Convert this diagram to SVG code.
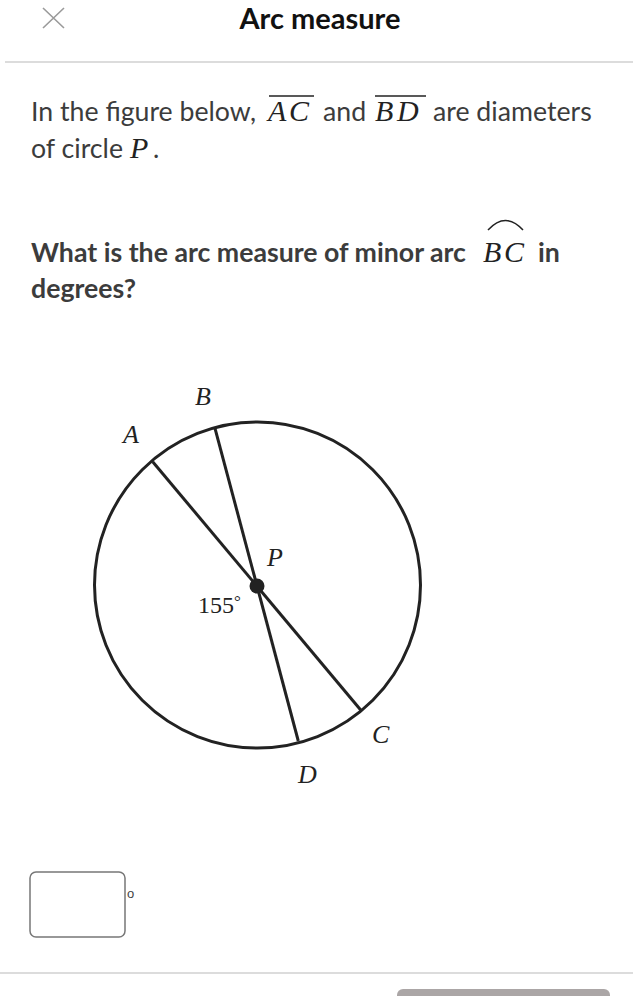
<svg xmlns="http://www.w3.org/2000/svg" width="638" height="996" viewBox="0 0 638 996">
<style>
.ui{font-family:Lato,"Open Sans","Liberation Sans",sans-serif}
.title{font-size:29px;font-weight:700;fill:#111}
.body{font-size:26.7px;fill:#3c3c3c}
.bold{font-weight:700}
.math{font-family:"Liberation Serif","DejaVu Serif",serif;font-style:italic;font-size:30px;fill:#222}
.lbl{font-family:"Liberation Serif","DejaVu Serif",serif;font-style:italic;font-size:26px;fill:#222}
.num{font-family:"Liberation Serif","DejaVu Serif",serif;font-size:24px;fill:#222}
.deg{font-family:"Liberation Serif","DejaVu Serif",serif;font-size:17px;fill:#222}
.geo{fill:none;stroke:#222;stroke-width:3}
.rule{stroke:#dcdcdc;stroke-width:2}
</style>
<rect width="638" height="996" fill="#fff"/>
<g id="header">
<path d="M43,8 L64,28 M64,8 L43,28" stroke="#9a9a9a" stroke-width="1.6" fill="none"/>
<text class="ui title" x="320" y="29" text-anchor="middle">Arc measure</text>
<line class="rule" x1="5" y1="62" x2="633" y2="62"/>
</g>
<g id="question">
<text class="ui body" x="31" y="121">In the figure below,</text>
<text class="math" x="268" y="121">A</text>
<text class="math" x="289" y="121">C</text>
<line x1="269" y1="96" x2="314" y2="96" stroke="#222" stroke-width="1.5"/>
<text class="ui body" x="323" y="121">and</text>
<text class="math" x="375" y="121">B</text>
<text class="math" x="397" y="121">D</text>
<line x1="375" y1="96" x2="426" y2="96" stroke="#222" stroke-width="1.5"/>
<text class="ui body" x="433" y="121">are diameters</text>
<text class="ui body" x="31" y="158">of circle</text>
<text class="math" x="130" y="158">P</text>
<text class="ui body" x="153" y="158">.</text>
<text class="ui body bold" x="31" y="262">What is the arc measure of minor arc</text>
<text class="math" x="483" y="262">B</text>
<text class="math" x="504" y="262">C</text>
<path d="M488,230 Q505.5,211 523,230" fill="none" stroke="#222" stroke-width="1.5"/>
<text class="ui body bold" x="538" y="262">in</text>
<text class="ui body bold" x="31" y="298">degrees?</text>
</g>
<g id="figure">
<g id="circle-P"><circle class="geo" cx="257.5" cy="585" r="163"/></g>
<g id="connectors">
<line class="geo" x1="152.7" y1="461.7" x2="360.7" y2="710"/>
<line class="geo" x1="215" y1="428.3" x2="298.3" y2="741"/>
</g>
<g id="center-P"><circle cx="257" cy="586" r="7.5" fill="#222"/></g>
<g id="label-A"><text class="lbl" x="123" y="443">A</text></g>
<g id="label-B"><text class="lbl" x="195" y="405">B</text></g>
<g id="label-P"><text class="lbl" x="267" y="566">P</text></g>
<g id="label-C"><text class="lbl" x="372" y="743">C</text></g>
<g id="label-D"><text class="lbl" x="298" y="783">D</text></g>
<g id="angle-155"><text class="num" x="198" y="613">155<tspan class="deg" dy="-6">°</tspan></text></g>
</g>
<g id="answer">
<rect x="30" y="872" width="95" height="65" rx="6" fill="#fff" stroke="#777" stroke-width="1.5"/>
<text x="127" y="898" font-family="Liberation Sans,sans-serif" font-size="13" fill="#444">o</text>
</g>
<g id="footer">
<line class="rule" x1="0" y1="973" x2="633" y2="973"/>
<rect x="397" y="989" width="213" height="20" rx="6" fill="#aba6a6"/>
</g>
</svg>
